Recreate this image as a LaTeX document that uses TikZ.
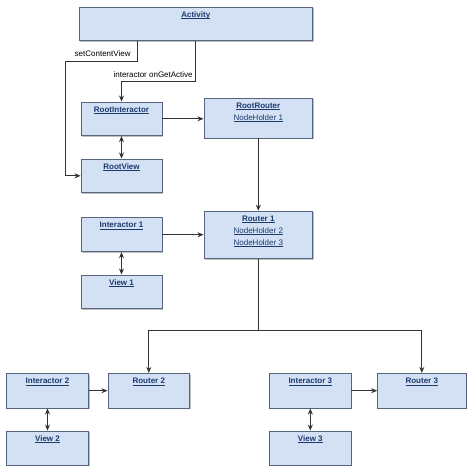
\documentclass[tikz,border=0pt]{standalone}
\usepackage{fontspec}
\setmainfont{Liberation Sans}
\usetikzlibrary{arrows.meta,shadows,calc}
\definecolor{boxfill}{HTML}{D4E1F5}
\definecolor{boxline}{HTML}{56657D}
\definecolor{ttl}{HTML}{1C3A6E}
\definecolor{ln}{HTML}{333333}
\newcommand{\ttlu}[1]{\underline{\smash{#1}}}
\tikzset{
  box/.style={draw=boxline, line width=0.9pt, fill=boxfill, inner sep=0pt,
    drop shadow={shadow xshift=1.4pt, shadow yshift=-1.4pt, fill=black, opacity=0.25}},
  ttlbl/.style={anchor=base, yshift=-10.6pt, inner sep=0pt, text=ttl,
    font=\fontsize{8}{12}\selectfont},
  ttlbltwo/.style={ttlbl, yshift=-12pt},
  ttlblthree/.style={ttlbl, yshift=-24pt},
  lbl/.style={inner sep=0pt, text=black, font=\fontsize{8}{10}\selectfont},
  arr/.style={draw=ln, line width=0.8pt, -{Stealth[length=6pt,width=5pt]}},
  darr/.style={draw=ln, line width=0.8pt, {Stealth[length=6pt,width=5pt]}-{Stealth[length=6pt,width=5pt]}},
  con/.style={draw=ln, line width=0.8pt},
}
\begin{document}
\begin{tikzpicture}[x=1pt,y=-1pt]
\useasboundingbox (0,0) rectangle (474,474);
% boxes
\node[box, minimum width=233.7pt, minimum height=33.7pt,
  label={[ttlbl]north:\textbf{\ttlu{Activity}}}] (act) at (195.8,23.8) {};
\node[box, minimum width=81pt, minimum height=33.7pt,
  label={[ttlbl]north:\textbf{\ttlu{RootInteractor}}}] (ri) at (121.5,118.8) {};
\node[box, minimum width=108.7pt, minimum height=40pt,
  label={[ttlbl]north:\textbf{\ttlu{RootRouter}}},
  label={[ttlbltwo]north:\ttlu{NodeHolder 1}}] (rr) at (258.3,118) {};
\node[box, minimum width=81pt, minimum height=33.7pt,
  label={[ttlbl]north:\textbf{\ttlu{RootView}}}] (rv) at (121.5,175.8) {};
\node[box, minimum width=81pt, minimum height=34pt,
  label={[ttlbl]north:\textbf{\ttlu{Interactor 1}}}] (i1) at (121.5,234.7) {};
\node[box, minimum width=108.7pt, minimum height=47.3pt,
  label={[ttlbl]north:\textbf{\ttlu{Router 1}}},
  label={[ttlbltwo]north:\ttlu{NodeHolder 2}},
  label={[ttlblthree]north:\ttlu{NodeHolder 3}}] (r1) at (258.3,234.7) {};
\node[box, minimum width=81pt, minimum height=33.7pt,
  label={[ttlbl]north:\textbf{\ttlu{View 1}}}] (v1) at (121.5,291.8) {};
\node[box, minimum width=81.6pt, minimum height=34.7pt,
  label={[ttlbl]north:\textbf{\ttlu{Interactor 2}}}] (i2) at (47.5,390.7) {};
\node[box, minimum width=81.7pt, minimum height=34.7pt,
  label={[ttlbl]north:\textbf{\ttlu{Router 2}}}] (r2) at (148.8,390.7) {};
\node[box, minimum width=81.3pt, minimum height=34.7pt,
  label={[ttlbl]north:\textbf{\ttlu{Interactor 3}}}] (i3) at (310.3,390.7) {};
\node[box, minimum width=88.3pt, minimum height=34.7pt,
  label={[ttlbl]north:\textbf{\ttlu{Router 3}}}] (r3) at (421.8,390.7) {};
\node[box, minimum width=81.6pt, minimum height=34pt,
  label={[ttlbl]north:\textbf{\ttlu{View 2}}}] (v2) at (47.5,448) {};
\node[box, minimum width=81.3pt, minimum height=34pt,
  label={[ttlbl]north:\textbf{\ttlu{View 3}}}] (v3) at (310.3,448) {};
% connectors
\coordinate (c1) at (137,0);
\draw[arr] (c1 |- act.south) -- ++(0,20)
  node[lbl, anchor=south east, xshift=-6pt, yshift=3.7pt] {setContentView}
  -| ($(rv.west)+(-15.3,0)$) -- (rv.west);
\draw[arr] (act.south) -- ++(0,40.3)
  node[lbl, anchor=south east, xshift=-2.7pt, yshift=3.4pt] {interactor onGetActive}
  -| (ri.north);
\draw[arr] (ri.east) -- (ri.east -| rr.west);
\draw[darr] (ri.south) -- (rv.north);
\draw[arr] (rr.south) -- (r1.north);
\draw[arr] (i1.east) -- (i1.east -| r1.west);
\draw[darr] (i1.south) -- (v1.north);
\draw[arr] (r1.south) -- ++(0,71.7) -| (r2.north);
\draw[arr] (r1.south) -- ++(0,71.7) -| (r3.north);
\draw[arr] (i2.east) -- (r2.west);
\draw[darr] (i2.south) -- (v2.north);
\draw[arr] (i3.east) -- (r3.west);
\draw[darr] (i3.south) -- (v3.north);
\end{tikzpicture}
\end{document}
